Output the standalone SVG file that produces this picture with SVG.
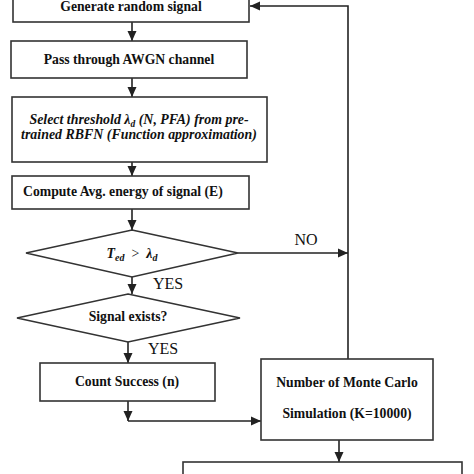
<svg xmlns="http://www.w3.org/2000/svg" width="474" height="474" viewBox="0 0 474 474">
<defs>
<marker id="arr" markerUnits="userSpaceOnUse" markerWidth="10" markerHeight="10" viewBox="0 0 10 10" refX="10" refY="5" orient="auto">
<path d="M0,0.5 L10,5 L0,9.5 Z" fill="#222"/>
</marker>
<style>
.box{fill:#fff;stroke:#333;stroke-width:1.6}
.ln{fill:none;stroke:#222;stroke-width:1.6}
.t{font-family:"Liberation Serif","Times New Roman",serif;font-weight:bold;font-size:13.7px;fill:#111}
.ti{font-family:"Liberation Serif","Times New Roman",serif;font-weight:bold;font-style:italic;font-size:13.9px;fill:#111}
.lab{font-family:"Liberation Serif","Times New Roman",serif;font-size:16px;fill:#111}
</style>
</defs>
<rect width="474" height="474" fill="#fff"/>
<g id="connectors">
<line class="ln" x1="132" y1="22" x2="132" y2="41" marker-end="url(#arr)"/>
<line class="ln" x1="132" y1="78" x2="132" y2="97" marker-end="url(#arr)"/>
<line class="ln" x1="132" y1="162" x2="132" y2="176" marker-end="url(#arr)"/>
<line class="ln" x1="132" y1="209" x2="132" y2="230" marker-end="url(#arr)"/>
<line class="ln" x1="238" y1="253" x2="348" y2="253" marker-end="url(#arr)"/>
<polyline class="ln" points="348,359 348,6 250,6" marker-end="url(#arr)"/>
<line class="ln" x1="132" y1="277" x2="132" y2="294" marker-end="url(#arr)"/>
<line class="ln" x1="128" y1="342" x2="128" y2="363" marker-end="url(#arr)"/>
<line class="ln" x1="128" y1="401" x2="128" y2="421" marker-end="url(#arr)"/>
<line class="ln" x1="128" y1="421" x2="261" y2="421" marker-end="url(#arr)"/>
<line class="ln" x1="339" y1="440" x2="339" y2="462" marker-end="url(#arr)"/>
<text class="lab" x="306" y="245" text-anchor="middle">NO</text>
<text class="lab" x="153" y="289">YES</text>
<text class="lab" x="148" y="354">YES</text>
</g>
<g id="n1">
<rect class="box" x="13" y="-10" width="236" height="32"/>
<text class="t" x="131" y="11" text-anchor="middle">Generate random signal</text>
</g>
<g id="n2">
<rect class="box" x="11" y="41" width="236" height="37"/>
<text class="t" x="129" y="64" text-anchor="middle">Pass through AWGN channel</text>
</g>
<g id="n3">
<rect class="box" x="12" y="97" width="255" height="65"/>
<text class="ti" x="139" y="124" text-anchor="middle">Select threshold λ<tspan font-size="9.5" dy="2.5">d</tspan><tspan dy="-2.5"> (N, PFA) from pre-</tspan></text>
<text class="ti" x="139" y="139" text-anchor="middle">trained RBFN (Function approximation)</text>
</g>
<g id="n4">
<rect class="box" x="12" y="176" width="237" height="33"/>
<text class="t" x="23" y="196">Compute Avg. energy of signal (E)</text>
</g>
<g id="n5">
<polygon class="box" points="132,230 238,253 132,277 26,253"/>
<text class="ti" x="132" y="258" text-anchor="middle" font-size="15">T<tspan font-size="10" dy="3">ed</tspan><tspan dy="-3" font-style="normal" font-weight="normal" xml:space="preserve">  &gt;  </tspan>λ<tspan font-size="10" dy="3">d</tspan></text>
</g>
<g id="n6">
<polygon class="box" points="128,294 240,318 128,342 17,318"/>
<text class="t" x="128" y="321" text-anchor="middle">Signal exists?</text>
</g>
<g id="n7">
<rect class="box" x="40" y="363" width="175" height="38"/>
<text class="t" x="127" y="386" text-anchor="middle">Count Success (n)</text>
</g>
<g id="n8">
<rect class="box" x="261" y="359" width="172" height="81"/>
<text class="t" x="347" y="387" text-anchor="middle">Number of Monte Carlo</text>
<text class="t" x="347" y="418" text-anchor="middle">Simulation (K=10000)</text>
</g>
<g id="n9">
<rect class="box" x="183" y="462" width="279" height="30"/>
</g>
</svg>
